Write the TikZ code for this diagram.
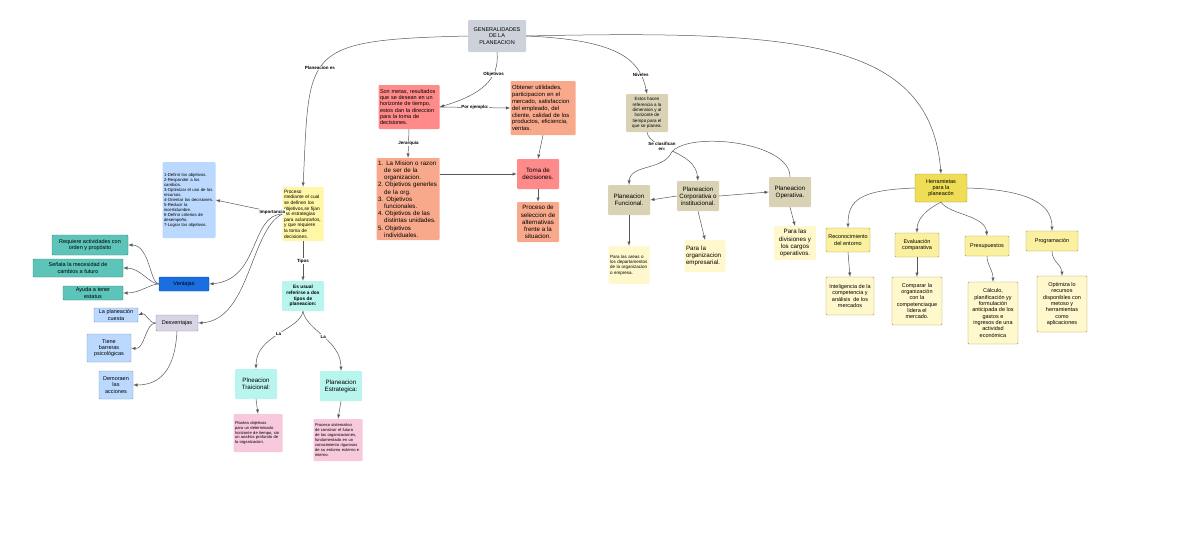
\documentclass[tikz,border=0pt]{standalone}
\usepackage{fontspec}
\setmainfont{Liberation Sans}
\begin{document}
\hyphenpenalty=10000 \exhyphenpenalty=10000
\begin{tikzpicture}[x=1pt,y=-1pt,
 bx/.style={draw=#1!70!black,line width=0.4pt,rounded corners=1pt,align=center,inner sep=1.5pt,font=\fontsize{5.5}{6.3}\selectfont},
 ar/.style={draw=black!65,line width=0.5pt,-latex},
 lb/.style={fill=white,inner sep=0.5pt,align=center,font=\bfseries\fontsize{4.5}{5}\selectfont}]
\definecolor{cgen}{HTML}{CDD2DA}\definecolor{cred}{HTML}{FF8A8A}\definecolor{csal}{HTML}{F9A98B}
\definecolor{cbei}{HTML}{D9D2B4}\definecolor{cly}{HTML}{FFF8CC}\definecolor{cyel}{HTML}{EEDD55}
\definecolor{cmy}{HTML}{FAF0A0}\definecolor{cblu}{HTML}{BBD9FF}\definecolor{cpy}{HTML}{FFF6A6}
\definecolor{caq}{HTML}{B8F5EC}\definecolor{cpk}{HTML}{F8C8DC}\definecolor{cvb}{HTML}{1A6FE0}
\definecolor{ctl}{HTML}{5CC4B8}\definecolor{cds}{HTML}{D8D4E4}
\useasboundingbox (0,0) rectangle (1200,533);
\fill[white] (0,0) rectangle (1200,533);
\node[bx=cgen,fill=cgen,draw=none,minimum width=58pt,minimum height=32pt] (gen) at (497,36) {GENERALIDADES\\DE LA\\PLANEACION};
\node[bx=cred,fill=cred,draw=none,text width=58pt,align=left,minimum height=44pt] (metas) at (409,107) {Son metas, resultados que se desean en un horizonte de tiempo, estos dan la direccion para la toma de decisiones.};
\node[bx=csal,fill=csal,draw=none,text width=62pt,align=left,minimum height=54pt,font=\fontsize{5.9}{6.9}\selectfont] (obt) at (543,108) {Obtener utilidades, participacion en el mercado, satisfaccion del empleado, del cliente, calidad de los productos, eficiencia, ventas.};
\node[bx=csal,fill=csal,draw=none,text width=60pt,align=left,minimum height=82pt,font=\fontsize{6.2}{7.2}\selectfont] (mis) at (408,199) {1. La Mision o razon\\\ \ \ de ser de la\\\ \ \ organizacion.\\2.\ Objetivos generles\\\ \ \ de la org.\\3. Objetivos\\\ \ \ funcionales.\\4.\ Objetivos de las\\\ \ \ distintas unidades.\\5.\ Objetivos\\\ \ \ individuales.};
\node[bx=cred,fill=cred,draw=none,minimum width=42pt,minimum height=30pt,font=\fontsize{6.2}{7.2}\selectfont] (toma) at (538,174) {Toma de\\decisiones.};
\node[bx=csal,fill=csal,draw=none,minimum width=42pt,minimum height=40pt,font=\fontsize{6.2}{7.2}\selectfont] (psel) at (538,222) {Proceso de\\seleccion de\\alternativas\\frente a la\\situacion.};
\node[bx=cbei,fill=cbei,draw=none,minimum width=42pt,minimum height=38pt,font=\fontsize{4.5}{5.3}\selectfont] (est) at (647,113) {Estos hacen\\referencia a la\\dimension y al\\horizonte de\\tiempo para el\\que se planea.};
\node[bx=cbei,fill=cbei,draw=none,minimum width=42pt,minimum height=30pt,font=\fontsize{6.2}{7.2}\selectfont] (fun) at (629,200) {Planeacion\\Funcional.};
\node[bx=cbei,fill=cbei,draw=none,minimum width=42pt,minimum height=30pt,font=\fontsize{6.2}{7.2}\selectfont] (cor) at (698,196) {Planeacion\\Corporativa o\\institucional.};
\node[bx=cbei,fill=cbei,draw=none,minimum width=42pt,minimum height=30pt,font=\fontsize{6.2}{7.2}\selectfont] (ope) at (790,192) {Planeacion\\Operativa.};
\node[bx=cly,fill=cly,draw=none,text width=38pt,align=left,minimum height=38pt,font=\fontsize{4.5}{5.3}\selectfont] (pa) at (629,265) {Para las areas o los departamentos de la organizacion o empresa.};
\node[bx=cly,fill=cly,draw=none,text width=38pt,align=left,minimum height=32pt,font=\fontsize{6.2}{7.2}\selectfont] (po) at (705,256) {Para la organizacion empresarial.};
\node[bx=cly,fill=cly,draw=none,minimum width=42pt,minimum height=34pt,font=\fontsize{6.2}{7.2}\selectfont] (pd) at (795,243) {Para las\\divisiones y\\los cargos\\operativos.};
\node[bx=cyel,fill=cyel,minimum width=52pt,minimum height=28pt] (her) at (941,188) {Herramietas\\para la\\planeacón};
\node[bx=cyel,fill=cmy,minimum width=44pt,minimum height=24pt] (rec) at (848,240) {Reconocimiento\\del entorno};
\node[bx=cyel,fill=cmy,minimum width=44pt,minimum height=24pt] (eva) at (917,245) {Evaluación\\comparativa};
\node[bx=cyel,fill=cmy,minimum width=44pt,minimum height=20pt] (pre) at (987,246) {Presupuestos};
\node[bx=cyel,fill=cmy,minimum width=52pt,minimum height=20pt] (pro) at (1052,241) {Programación};
\node[bx=cyel,fill=cly,minimum width=48pt,minimum height=38pt] (r1) at (850,296) {Inteligencia de la\\competencia y\\análisis\ \ de los\\mercados};
\node[bx=cyel,fill=cly,minimum width=50pt,minimum height=48pt] (r2) at (917,301) {Comparar la\\organización\\con la\\competenciaque\\lidera el\\mercado.};
\node[bx=cyel,fill=cly,minimum width=50pt,minimum height=62pt] (r3) at (993,313) {Cálculo,\\planificación yy\\formulación\\anticipada de los\\gastos e\\ingresos de una\\actividsd\\económica};
\node[bx=cyel,fill=cly,minimum width=50pt,minimum height=56pt] (r4) at (1062,304) {Optimiza lo\\recursos\\disponibles con\\metoso y\\herramientas\\como\\aplicaciones};
\node[bx=cblu,fill=cblu,draw=none,text width=50pt,align=left,minimum height=76pt,font=\fontsize{4.3}{5}\selectfont] (def) at (189,200) {1-Definir los objetivos.\\2-Responder a los cambios.\\3-Optimizar el uso de los recursos.\\4-Orientar las decisiones.\\5-Reducir la incertidumbre.\\6-Definir criterios de desempeño.\\7-Lograr los objetivos.};
\node[bx=cpy,fill=cpy,draw=none,text width=38pt,align=left,minimum height=54pt,font=\fontsize{4.8}{5.6}\selectfont] (proc) at (303,214) {Proceso mediante el cual se definen los objetivos,se fijan las estrategias para aclanzarlos, y que requiere la toma de decisiones.};
\node[bx=caq,fill=caq,draw=none,minimum width=42pt,minimum height=30pt,font=\bfseries\fontsize{4.8}{5.6}\selectfont] (usu) at (303,296) {Es usual\\referirse a dos\\tipos de\\planeacion:};
\node[bx=caq,fill=caq,draw=none,minimum width=42pt,minimum height=30pt,font=\fontsize{6.2}{7.2}\selectfont] (tra) at (256,384) {Plneacion\\Traicional:};
\node[bx=caq,fill=caq,draw=none,minimum width=42pt,minimum height=30pt,font=\fontsize{6.2}{7.2}\selectfont] (estr) at (341,386) {Planeacion\\Estrategica:};
\node[bx=cpk,fill=cpk,draw=none,text width=46pt,align=left,minimum height=38pt,font=\fontsize{4.1}{4.9}\selectfont] (pl) at (258,433) {Plantea objetivos para un determinado horizonte de tiempo, sin un analisis profundo de la organizacion.};
\node[bx=cpk,fill=cpk,draw=none,text width=46pt,align=left,minimum height=42pt,font=\fontsize{4.1}{4.9}\selectfont] (ps) at (338,440) {Proceso sistematico de construir el futuro de las organizaciones, fundamentado en un conocimiento rigurosos de su entorno externo e interno.};
\node[bx=cvb,fill=cvb,minimum width=50pt,minimum height=14pt] (ven) at (184,284) {Ventajas};
\node[bx=ctl,fill=ctl,minimum width=76pt,minimum height=20pt] (req) at (90,245) {Requiere actividades con\\orden y propósito};
\node[bx=ctl,fill=ctl,minimum width=90pt,minimum height=18pt] (sen) at (78,268) {Señala la mecesidad de\\cambios a futuro};
\node[bx=ctl,fill=ctl,minimum width=60pt,minimum height=14pt] (ayu) at (93,293) {Ayuda a tener\\estatus};
\node[bx=cds,fill=cds,minimum width=42pt,minimum height=16pt] (des) at (177,323) {Desventajas};
\node[bx=cblu,fill=cblu,minimum width=44pt,minimum height=14pt] (cue) at (116,315) {La planeación\\cuesta};
\node[bx=cblu,fill=cblu,minimum width=44pt,minimum height=28pt] (tie) at (109,348) {Tiene\\barreras\\psicológicas};
\node[bx=cblu,fill=cblu,minimum width=34pt,minimum height=28pt] (dem) at (116,385) {Demoraen\\las\\acciones};
% edges
\draw[ar] (gen.west) .. controls (300,40) and (310,50) .. node[lb,pos=0.55]{Planeacion es} (proc.north);
\draw[ar] (gen.east) .. controls (800,30) and (930,40) .. (her.north);
\draw[ar] (gen.east) .. controls (620,40) and (640,60) .. node[lb,pos=0.8]{Niveles} (est.north);
\draw[ar] (gen.south) .. controls (500,80) and (480,95) .. node[lb,pos=0.3]{Objetivos} (metas.east);
\draw[ar] (metas.east) -- node[lb]{Por ejemplo:} (obt.west);
\draw[ar] (metas.south) -- node[lb]{Jerarquia} (mis.north);
\draw[ar] (mis.east|-toma) -- (toma.west);
\draw[ar] (obt.south) -- (toma.north);
\draw[ar] (toma.south) -- (psel.north);
\draw[ar] (est.south) .. controls (650,150) and (695,150) .. node[lb,pos=0.35]{Se clasifican\\en:} (cor.north);
\draw[ar] (cor.west) -- (fun.east);
\draw[ar] (cor.east) -- (ope.west);
\draw[ar] (fun.south) -- (pa.north);
\draw[ar] (cor.south) -- (po.north);
\draw[ar] (ope.south) -- (pd.north);
\draw[ar] (ope.north) .. controls (790,140) and (680,130) .. (670,155) .. controls (660,170) and (630,165) .. (fun.north);
\draw[ar] (her.west) .. controls (860,190) and (848,200) .. (rec.north);
\draw[ar] (her.south) .. controls (935,205) and (917,215) .. (eva.north);
\draw[ar] (her.south) .. controls (950,215) and (985,215) .. (pre.north);
\draw[ar] (her.east) .. controls (1040,190) and (1052,210) .. (pro.north);
\draw[ar] (rec.south) -- (r1.north);
\draw[ar] (eva.south) -- (r2.north);
\draw[ar] (pre.south) .. controls (987,265) and (993,270) .. (r3.north);
\draw[ar] (pro.south) .. controls (1052,262) and (1062,265) .. (r4.north);
\draw[ar] (proc.west) -- node[lb,pos=0.15]{Importancia} (def.east);
\draw[ar] (proc.west) .. controls (250,215) and (260,280) .. (ven.east);
\draw[ar] (proc.west) .. controls (250,230) and (250,320) .. (des.east);
\draw[ar] (proc.south) -- node[lb]{Tipos} (usu.north);
\draw[ar] (usu.south) .. controls (300,330) and (256,335) .. node[lb,pos=0.5]{La} (tra.north);
\draw[ar] (usu.south) .. controls (306,330) and (341,340) .. node[lb,pos=0.5]{La} (estr.north);
\draw[ar] (tra.south) -- (pl.north);
\draw[ar] (estr.south) -- (ps.north);
\draw[ar] (ven.west) .. controls (150,284) and (150,245) .. (req.east);
\draw[ar] (ven.west) .. controls (150,284) and (140,268) .. (sen.east);
\draw[ar] (ven.west) .. controls (150,284) and (140,293) .. (ayu.east);
\draw[ar] (des.west) .. controls (148,323) and (146,312) .. (cue.east);
\draw[ar] (des.west) .. controls (145,323) and (145,350) .. (tie.east);
\draw[ar] (des.south) .. controls (175,370) and (160,385) .. (dem.east);
\end{tikzpicture}
\end{document}
